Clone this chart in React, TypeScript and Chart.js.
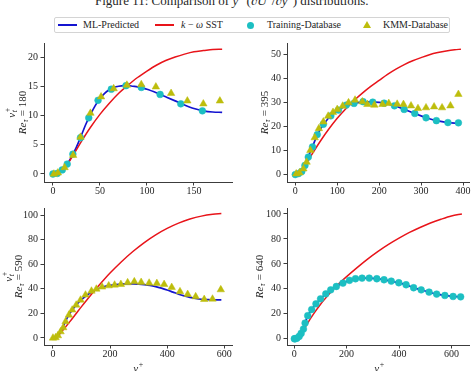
import React, { useEffect, useRef } from 'react';
import { Chart, registerables } from 'chart.js';

Chart.register(...registerables);

const SERIF = "'Liberation Serif', 'DejaVu Serif', 'Times New Roman', serif";
const BLUE = '#1414d0';
const RED = '#e8141a';
const CYAN = '#1cbfc2';
const YELLOW = '#bdbd0c';
const AXIS = '#3c3c3c';
const TEXT = '#262626';

// ---------- Re_tau = 180 ----------
const x180Ticks = [0, 50, 100, 150];
const y180Ticks = [0, 5, 10, 15, 20];
const ml180X = [0, 5, 10, 15, 20, 25, 30, 35, 40, 45, 50, 55, 60, 65, 70, 75, 80, 85, 90, 95, 100, 110, 120, 130, 140, 150, 160, 170, 180];
const ml180Y = [0, 0.1, 0.6, 1.6, 3.0, 4.6, 6.5, 8.5, 10.2, 11.7, 12.9, 13.8, 14.4, 14.8, 15.0, 15.1, 15.1, 15.0, 14.9, 14.7, 14.5, 13.9, 13.2, 12.5, 11.8, 11.2, 10.8, 10.6, 10.55];
const sst180X = [0, 10, 20, 30, 40, 50, 60, 70, 80, 90, 100, 110, 120, 130, 140, 150, 160, 170, 180];
const sst180Y = [0, 0.6, 2.8, 5.5, 8.0, 10.2, 12.1, 13.8, 15.2, 16.5, 17.6, 18.6, 19.4, 20.0, 20.5, 20.9, 21.1, 21.3, 21.35];
const train180X = [0, 4.6, 9.9, 15.2, 21.2, 29.3, 38.1, 48, 62.1, 77.7, 94, 114, 136, 159];
const train180Y = [0, 0.1, 0.7, 1.7, 3.4, 6.2, 9.6, 12.6, 14.5, 15.1, 14.8, 13.6, 12.0, 10.8];
const kmm180X = [1, 5.3, 12.4, 21.5, 29.3, 39.9, 51.2, 64.6, 78.7, 94, 109.5, 125.7, 143, 160, 177.6];
const kmm180Y = [0, 0.2, 1.1, 3.2, 6.3, 10.4, 13.2, 14.6, 15.2, 15.3, 14.9, 13.8, 12.5, 12.0, 12.5];

// ---------- Re_tau = 395 ----------
const x395Ticks = [0, 100, 200, 300, 400];
const y395Ticks = [0, 10, 20, 30, 40, 50];
const ml395X = [0, 10, 20, 30, 40, 50, 60, 70, 80, 90, 100, 120, 140, 160, 180, 200, 220, 240, 260, 280, 300, 320, 340, 360, 380, 395];
const ml395Y = [0, 0.5, 2.8, 7.0, 11.2, 15.5, 19.0, 21.5, 23.7, 25.3, 26.6, 28.6, 29.7, 30.2, 30.3, 30.1, 29.5, 28.5, 27.2, 25.8, 24.5, 23.3, 22.4, 21.8, 21.5, 21.5];
const sst395X = [0, 10, 20, 30, 40, 60, 80, 100, 120, 140, 160, 180, 200, 220, 240, 260, 280, 300, 320, 340, 360, 380, 395];
const sst395Y = [0, 0.6, 2.8, 5.6, 8.5, 14.0, 19.0, 23.5, 27.4, 30.9, 34.0, 36.8, 39.3, 41.8, 44.0, 45.9, 47.5, 48.8, 50.0, 50.9, 51.6, 52.1, 52.3];
const train395X = [0, 7.8, 15.5, 23, 31, 41, 52.4, 67, 84.8, 103, 121.7, 140, 161.7, 184.8, 211.8, 236.5, 259.6, 285, 311.8, 336.5, 364, 389];
const train395Y = [0, 0.4, 1.3, 3.8, 7.3, 11.5, 16.7, 21, 24.5, 26.9, 29, 29.7, 30.4, 30.2, 29.8, 28.7, 27.2, 25.5, 23.7, 22.5, 21.7, 21.6];
const kmm395X = [2.3, 10, 19.3, 27, 36, 46.3, 56.2, 67, 78.5, 90, 100, 113, 127, 142.5, 160, 172, 188.6, 208, 223, 243, 258, 276, 292.6, 311.8, 331, 350, 370, 389];
const kmm395Y = [0.3, 0.7, 2.4, 5.2, 10.1, 15.4, 19.2, 22, 24.4, 26, 27.2, 28.6, 30, 31.1, 30.4, 29.3, 29, 29.3, 29.7, 29.4, 29.3, 28.7, 27.6, 27.9, 28.3, 27.9, 28.7, 33.5];

// ---------- Re_tau = 590 ----------
const x590Ticks = [0, 200, 400, 600];
const y590Ticks = [0, 20, 40, 60, 80, 100];
const ml590X = [0, 10, 20, 30, 40, 50, 60, 80, 100, 120, 140, 160, 180, 200, 220, 240, 260, 280, 300, 320, 340, 360, 380, 400, 420, 440, 460, 480, 500, 520, 540, 560, 590];
const ml590Y = [0, 0.4, 2.5, 6.5, 11.5, 16.3, 20.3, 26.5, 31.2, 35.0, 38.0, 40.2, 41.8, 42.8, 43.4, 43.8, 44.0, 44.0, 43.8, 43.4, 42.8, 41.8, 40.5, 39.0, 37.3, 35.6, 34.2, 33.0, 32.1, 31.5, 31.2, 31.0, 31.0];
const sst590X = [0, 10, 20, 30, 40, 60, 80, 100, 120, 140, 160, 180, 200, 240, 280, 320, 360, 400, 440, 480, 520, 560, 590];
const sst590Y = [0, 0.6, 2.5, 5.0, 7.8, 13.5, 19.5, 25.5, 31.3, 37.0, 42.5, 47.8, 52.8, 62.0, 70.3, 77.6, 83.9, 89.1, 93.4, 96.7, 99.1, 100.6, 101.2];
const kmm590X = [0, 9.3, 17.4, 26.7, 36, 44.2, 55.8, 67.5, 81.4, 96.5, 114, 134.9, 152, 172, 195.4, 216, 238, 261.6, 285, 309, 337, 364, 389.5, 416, 445, 472, 500, 530, 559, 588];
const kmm590Y = [0, 0.3, 1.9, 5.1, 8.4, 13.3, 18.7, 22.8, 26.8, 30.9, 35, 38.2, 39.8, 41.5, 42.5, 43.1, 43.6, 45, 45.8, 45.3, 44.7, 44.4, 43.6, 41.2, 37.7, 35.5, 33.6, 31.4, 31.7, 39.3];

// ---------- Re_tau = 640 ----------
const x640Ticks = [0, 200, 400, 600];
const y640Ticks = [0, 20, 40, 60, 80, 100];
const ml640X = [0, 10, 20, 30, 40, 50, 60, 80, 100, 120, 140, 160, 180, 200, 220, 240, 260, 280, 300, 320, 340, 360, 380, 400, 420, 440, 460, 480, 500, 520, 540, 560, 580, 600, 620, 640];
const ml640Y = [0, 0.5, 2.0, 5.0, 11.5, 17.8, 21.5, 27.2, 31.8, 35.9, 39.2, 41.9, 44.0, 45.9, 47.4, 48.3, 48.6, 48.6, 48.4, 48.0, 47.4, 46.6, 45.7, 44.8, 43.7, 42.3, 40.6, 39.4, 38.3, 37.1, 36.0, 35.2, 34.5, 34.0, 33.7, 33.6];
const sst640X = [0, 10, 20, 30, 40, 60, 80, 100, 120, 140, 160, 180, 200, 240, 280, 320, 360, 400, 440, 480, 520, 560, 600, 640];
const sst640Y = [0, 0.6, 2.5, 5.2, 8.5, 15.5, 21.8, 27.5, 32.6, 37.5, 42.0, 46.0, 49.8, 57.0, 63.8, 70.0, 75.6, 80.6, 85.2, 89.2, 92.8, 95.8, 98.4, 100.0];
const train640X = [0.5, 3.8, 10.2, 18.9, 26.4, 35.3, 41.5, 51.6, 66.7, 83, 100.5, 120.6, 139.4, 160.8, 186, 211, 234, 259, 286.3, 315.2, 342.8, 370.4, 399.2, 427, 455.7, 484.6, 514.7, 543.6, 575, 606.3, 635.2];
const train640Y = [0, 0, 0.5, 1.9, 4.3, 7.8, 12.6, 18.5, 23.4, 28, 32, 36, 39.2, 41.9, 44.6, 46.8, 48.1, 48.6, 48.6, 48.1, 47.3, 46.2, 44.9, 43.3, 40.9, 39.2, 37.4, 35.8, 34.7, 33.9, 33.6];

type Seg = { t: string; it?: boolean; sub?: string; sup?: string };

const NU: Seg[] = [{ t: 'ν', it: true, sub: 't', sup: '+' }];
const reLabel = (n: string): Seg[] => [{ t: 'Re', it: true, sub: 'τ' }, { t: ' = ' + n }];
const YPLUS: Seg[] = [{ t: 'y', it: true, sup: '+' }];

function drawMath(ctx: CanvasRenderingContext2D, segs: Seg[], cx: number, cy: number, size: number, rotate: boolean) {
  ctx.save();
  ctx.translate(cx, cy);
  if (rotate) ctx.rotate(-Math.PI / 2);
  const small = size * 0.72;
  const fontOf = (s: number, it?: boolean) => `${it ? 'italic ' : ''}${s}px ${SERIF}`;
  const widths = segs.map((seg) => {
    ctx.font = fontOf(size, seg.it);
    const w = ctx.measureText(seg.t).width;
    let ws = 0;
    if (seg.sub) { ctx.font = fontOf(small, true); ws = Math.max(ws, ctx.measureText(seg.sub).width + 1); }
    if (seg.sup) { ctx.font = fontOf(small, false); ws = Math.max(ws, ctx.measureText(seg.sup).width + 1); }
    return { w, ws };
  });
  const total = widths.reduce((a, b) => a + b.w + b.ws, 0);
  let x = -total / 2;
  ctx.fillStyle = TEXT;
  ctx.textBaseline = 'alphabetic';
  ctx.textAlign = 'left';
  const base = size * 0.33;
  segs.forEach((seg, i) => {
    ctx.font = fontOf(size, seg.it);
    ctx.fillText(seg.t, x, base);
    x += widths[i].w;
    if (seg.sub) { ctx.font = fontOf(small, true); ctx.fillText(seg.sub, x + 0.5, base + size * 0.25); }
    if (seg.sup) { ctx.font = fontOf(small, false); ctx.fillText(seg.sup, x + 0.5, base - size * 0.45); }
    x += widths[i].ws;
  });
  ctx.restore();
}

type Panel = {
  left: number; top: number; w: number; h: number;
  padTop: number; padRight: number; yAxisW: number; xAxisH: number;
  xMin: number; xMax: number; yMin: number; yMax: number;
  xTicks: number[]; yTicks: number[];
  ml: [number[], number[]]; sst: [number[], number[]];
  train?: [number[], number[]]; kmm?: [number[], number[]];
  yLabels: { segs: Seg[]; x: number }[]; yCenter: number;
  xLabel?: { x: number; y: number };
};

const panels: Panel[] = [
  {
    left: 0, top: 36, w: 237, h: 163, padTop: 7, padRight: 4, yAxisW: 44, xAxisH: 17,
    xMin: -9.5, xMax: 190.7, yMin: -1.37, yMax: 22.4, xTicks: x180Ticks, yTicks: y180Ticks,
    ml: [ml180X, ml180Y], sst: [sst180X, sst180Y], train: [train180X, train180Y], kmm: [kmm180X, kmm180Y],
    yLabels: [{ segs: NU, x: 11 }, { segs: reLabel('180'), x: 22 }], yCenter: 112.5,
  },
  {
    left: 237, top: 36, w: 237, h: 163, padTop: 7, padRight: 1, yAxisW: 50, xAxisH: 17,
    xMin: -19.75, xMax: 414.75, yMin: -3.1, yMax: 54.9, xTicks: x395Ticks, yTicks: y395Ticks,
    ml: [ml395X, ml395Y], sst: [sst395X, sst395Y], train: [train395X, train395Y], kmm: [kmm395X, kmm395Y],
    yLabels: [{ segs: reLabel('395'), x: 264 }], yCenter: 112.5,
  },
  {
    left: 0, top: 199, w: 237, h: 172, padTop: 9, padRight: 4, yAxisW: 44, xAxisH: 26,
    xMin: -31.4, xMax: 628, yMin: -5.7, yMax: 105.7, xTicks: x590Ticks, yTicks: y590Ticks,
    ml: [ml590X, ml590Y], sst: [sst590X, sst590Y], kmm: [kmm590X, kmm590Y],
    yLabels: [{ segs: NU, x: 8 }, { segs: reLabel('590'), x: 18 }], yCenter: 276.5,
    xLabel: { x: 138.5, y: 368 },
  },
  {
    left: 237, top: 199, w: 237, h: 172, padTop: 9, padRight: 2, yAxisW: 50, xAxisH: 26,
    xMin: -27.5, xMax: 669, yMin: -5.0, yMax: 104.8, xTicks: x640Ticks, yTicks: y640Ticks,
    ml: [ml640X, ml640Y], sst: [sst640X, sst640Y], train: [train640X, train640Y],
    yLabels: [{ segs: reLabel('640'), x: 259 }], yCenter: 276.5,
    xLabel: { x: 379.5, y: 368 },
  },
];

const toPts = (xs: number[], ys: number[]) => xs.map((x, i) => ({ x, y: ys[i] }));

function ChartPanel({ p }: { p: Panel }) {
  const ref = useRef<HTMLCanvasElement>(null);
  useEffect(() => {
    if (!ref.current) return;
    const datasets: any[] = [];
    if (p.kmm) datasets.push({
      label: 'KMM-Database', data: toPts(p.kmm[0], p.kmm[1]), showLine: false,
      pointStyle: 'triangle', pointRadius: 4.3, backgroundColor: YELLOW, borderColor: YELLOW, borderWidth: 0.5,
    });
    if (p.train) datasets.push({
      label: 'Training-Database', data: toPts(p.train[0], p.train[1]), showLine: false,
      pointStyle: 'circle', pointRadius: 3.4, backgroundColor: CYAN, borderColor: CYAN, borderWidth: 0.5,
    });
    datasets.push({
      label: 'k-ω SST', data: toPts(p.sst[0], p.sst[1]), showLine: true, pointRadius: 0,
      borderColor: RED, borderWidth: 1.5, cubicInterpolationMode: 'monotone', fill: false,
    });
    datasets.push({
      label: 'ML-Predicted', data: toPts(p.ml[0], p.ml[1]), showLine: true, pointRadius: 0,
      borderColor: BLUE, borderWidth: 1.7, cubicInterpolationMode: 'monotone', fill: false,
    });
    const tickFont = { family: SERIF, size: 10 };
    const labelPlugin = {
      id: 'mathLabels',
      afterDraw(chart: any) {
        const ctx = chart.ctx as CanvasRenderingContext2D;
        p.yLabels.forEach((l) => drawMath(ctx, l.segs, l.x - p.left, p.yCenter - p.top, 11, true));
        if (p.xLabel) drawMath(ctx, YPLUS, p.xLabel.x - p.left, p.xLabel.y - p.top, 11, false);
      },
    };
    const chart = new Chart(ref.current, {
      type: 'scatter',
      data: { datasets },
      options: {
        animation: false,
        responsive: false,
        devicePixelRatio: 1,
        events: [],
        layout: { padding: { left: 0, top: p.padTop, right: p.padRight, bottom: 0 } },
        plugins: { legend: { display: false }, tooltip: { enabled: false } },
        scales: {
          x: {
            type: 'linear', min: p.xMin, max: p.xMax,
            afterBuildTicks: (s: any) => { s.ticks = p.xTicks.map((v) => ({ value: v })); },
            afterFit: (s: any) => { s.height = p.xAxisH; s.paddingLeft = 0; s.paddingRight = 0; },
            grid: { display: true, drawOnChartArea: false, drawTicks: true, tickLength: 3.5, color: AXIS, lineWidth: 1 },
            border: { display: true, color: AXIS, width: 1 },
            ticks: { font: tickFont, color: TEXT, padding: 0, maxRotation: 0, autoSkip: false },
          },
          y: {
            type: 'linear', min: p.yMin, max: p.yMax,
            afterBuildTicks: (s: any) => { s.ticks = p.yTicks.map((v) => ({ value: v })); },
            afterFit: (s: any) => { s.width = p.yAxisW; s.paddingTop = 0; s.paddingBottom = 0; },
            grid: { display: true, drawOnChartArea: false, drawTicks: true, tickLength: 3.5, color: AXIS, lineWidth: 1 },
            border: { display: true, color: AXIS, width: 1 },
            ticks: { font: tickFont, color: TEXT, padding: 2.5, autoSkip: false },
          },
        },
      } as any,
      plugins: [labelPlugin],
    });
    return () => chart.destroy();
  }, [p]);
  return (
    <canvas
      ref={ref}
      width={p.w}
      height={p.h}
      style={{ position: 'absolute', left: p.left, top: p.top, width: p.w, height: p.h }}
    />
  );
}

function Legend() {
  const text: React.CSSProperties = { position: 'absolute', top: 0, lineHeight: '13px', fontSize: 10, fontFamily: SERIF, color: TEXT, whiteSpace: 'nowrap' };
  return (
    <div style={{ position: 'absolute', left: 54, top: 17, width: 396, height: 16, border: '1px solid #d4d4d4', borderRadius: 2, boxSizing: 'border-box', background: '#fff' }}>
      <div style={{ position: 'absolute', left: 3, top: 6, width: 19, height: 2, background: BLUE }} />
      <span style={{ ...text, left: 28 }}>ML-Predicted</span>
      <div style={{ position: 'absolute', left: 100, top: 6, width: 19, height: 2, background: RED }} />
      <span style={{ ...text, left: 126 }}><i>k</i> − <i>ω</i> SST</span>
      <div style={{ position: 'absolute', left: 192, top: 3.5, width: 7, height: 7, borderRadius: '50%', background: CYAN }} />
      <span style={{ ...text, left: 212 }}>Training-Database</span>
      <div style={{ position: 'absolute', left: 308, top: 3, width: 0, height: 0, borderLeft: '4px solid transparent', borderRight: '4px solid transparent', borderBottom: `7px solid ${YELLOW}` }} />
      <span style={{ ...text, left: 328 }}>KMM-Database</span>
    </div>
  );
}

export default function App() {
  return (
    <div style={{ position: 'absolute', left: 0, top: 0, width: 474, height: 371, overflow: 'hidden', background: '#fff' }}>
      <div style={{ position: 'absolute', left: 95, top: -9, fontFamily: SERIF, fontSize: 13, lineHeight: '13px', color: TEXT, whiteSpace: 'nowrap' }}>
        Figure 11: Comparison of <i>y</i><sup style={{ fontSize: 9 }}>+</sup> (∂<i>U</i><sup style={{ fontSize: 9 }}>+</sup>/∂<i>y</i><sup style={{ fontSize: 9 }}>+</sup>) distributions.
      </div>
      <Legend />
      {panels.map((p, i) => <ChartPanel key={i} p={p} />)}
    </div>
  );
}
